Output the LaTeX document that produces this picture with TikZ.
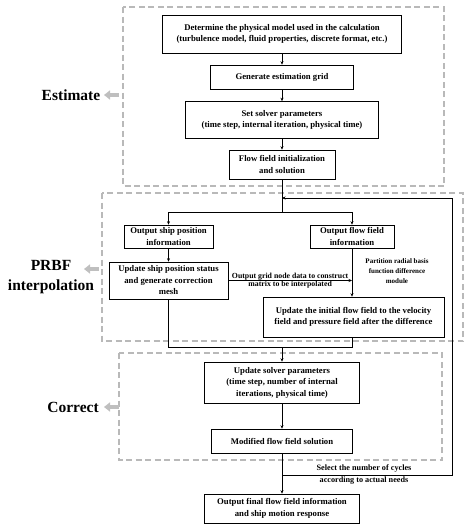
\documentclass[tikz,border=0pt]{standalone}
\usepackage{fontspec}
\setmainfont{Liberation Serif}
\usetikzlibrary{arrows.meta, positioning}
\tikzstyle{process} = [rectangle, draw=black, line width=0.6pt, text centered, align=center, inner sep=1pt, font=\bfseries\fontsize{8.7}{11.5}\selectfont]
\tikzstyle{group} = [draw=gray!55, line width=1.7pt, dash pattern=on 6pt off 3.5pt]
\tikzstyle{stage} = [align=center, inner sep=1pt, font=\bfseries\fontsize{15.5}{20}\selectfont]
\tikzstyle{note} = [align=center, inner sep=1pt, font=\bfseries\fontsize{7}{10}\selectfont]
\tikzstyle{pointer} = [draw=gray!50, line width=4pt, -{Triangle[length=6pt,width=9pt]}]
\tikzstyle{link} = [line width=0.6pt, -{Stealth[length=3.5pt,width=3pt]}]

\begin{document}
\begin{tikzpicture}[x=1pt, y=1pt, node distance=43pt]
\useasboundingbox (0,0) rectangle (474,-531);
% stage frames
\draw [group] (123,-7) rectangle (444,-186);
\draw [group] (102,-193) rectangle (463,-341);
\draw [group] (119,-353) rectangle (442,-460);
% estimate
\node (model) [process, minimum width=239pt, minimum height=38pt] at (282,-34) {Determine the physical model used in the calculation\\(turbulence model, fluid properties, discrete format, etc.)};
\node (grid) [process, below of=model, minimum width=143pt, minimum height=24pt] {Generate estimation grid};
\node (solver) [process, below of=grid, minimum width=193pt, minimum height=37pt] {Set solver parameters\\(time step, internal iteration, physical time)};
\node (init) [process, below of=solver, yshift=-1.5pt, minimum width=106pt, minimum height=29pt] {Flow field initialization\\and solution};
% interpolation
\node (shippos) [process, below of=init, xshift=-113.5pt, yshift=-29pt, minimum width=89pt, minimum height=23pt] {Output ship position\\information};
\node (flowout) [process, below of=init, xshift=70pt, yshift=-29pt, minimum width=84pt, minimum height=23pt] {Output flow field\\information};
\node (shipupd) [process, below of=shippos, yshift=-1pt, minimum width=119pt, minimum height=37pt] {Update ship position status\\and generate correction\\mesh};
\node (flowupd) [process, below of=flowout, xshift=1.5pt, yshift=-37.5pt, minimum width=181pt, minimum height=40pt] {Update the initial flow field to the velocity\\field and pressure field after the difference};
\node (module) [note] at (397,-271) {Partition radial basis\\function difference\\module};
% correct
\node (solverupd) [process, below of=flowupd, xshift=-71.5pt, yshift=-22.5pt, minimum width=155pt, minimum height=41pt] {Update solver parameters\\(time step, number of internal\\iterations, physical time)};
\node (corrected) [process, below of=solverupd, yshift=-15.5pt, minimum width=141pt, minimum height=24pt] {Modified flow field solution};
\node (final) [process, below of=corrected, yshift=-24.5pt, minimum width=155pt, minimum height=29pt] {Output final flow field information\\and ship motion response};
% stage labels
\node (est) [stage] at (71,-95) {Estimate};
\node (prbf) [stage] at (51,-277) {PRBF\\interpolation};
\node (cor) [stage] at (73,-407) {Correct};
\coordinate (estA) at (119,-95);
\coordinate (estB) at (104,-95);
\coordinate (prbfA) at (99,-269);
\coordinate (prbfB) at (84,-269);
\coordinate (corA) at (119,-407);
\coordinate (corB) at (104,-407);
\draw [pointer] (estA) -- (estB);
\draw [pointer] (prbfA) -- (prbfB);
\draw [pointer] (corA) -- (corB);
% junctions
\coordinate (back) at (282,-198);
\coordinate (split) at (282,-212);
\coordinate (merge) at (282,-347);
\coordinate (cycle) at (282,-475);
\coordinate (corner) at (452,-198);
% flow
\draw [link] (model) -- (grid);
\draw [link] (grid) -- (solver);
\draw [link] (solver) -- (init);
\draw [line width=0.6pt] (init) -- (split);
\draw [link] (split) -| (shippos.north);
\draw [link] (split) -| (flowout.north);
\draw [link] (shippos) -- (shipupd);
\draw [link] (flowout.south) -- (flowout.south |- flowupd.north);
\draw [link] (shipupd.east) -- (shipupd.east -| flowout.south) node [note, midway, above, yshift=-1pt, font=\bfseries\fontsize{7.8}{10}\selectfont] {Output grid node data to construct} node [note, midway, below, yshift=1pt, font=\bfseries\fontsize{7.8}{10}\selectfont] {matrix to be interpolated};
\draw [line width=0.6pt] (shipupd.south) |- (merge);
\draw [line width=0.6pt] (flowupd.south -| flowout.south) |- (merge);
\draw [link] (merge) -- (solverupd);
\draw [link] (solverupd) -- (corrected);
\draw [link] (corrected) -- (final);
\draw [link] (cycle) -| (corner) -- (back);
\node (select) [note, font=\bfseries\fontsize{8.2}{12}\selectfont] at (364,-475) {Select the number of cycles\\according to actual needs};
\end{tikzpicture}
\end{document}
